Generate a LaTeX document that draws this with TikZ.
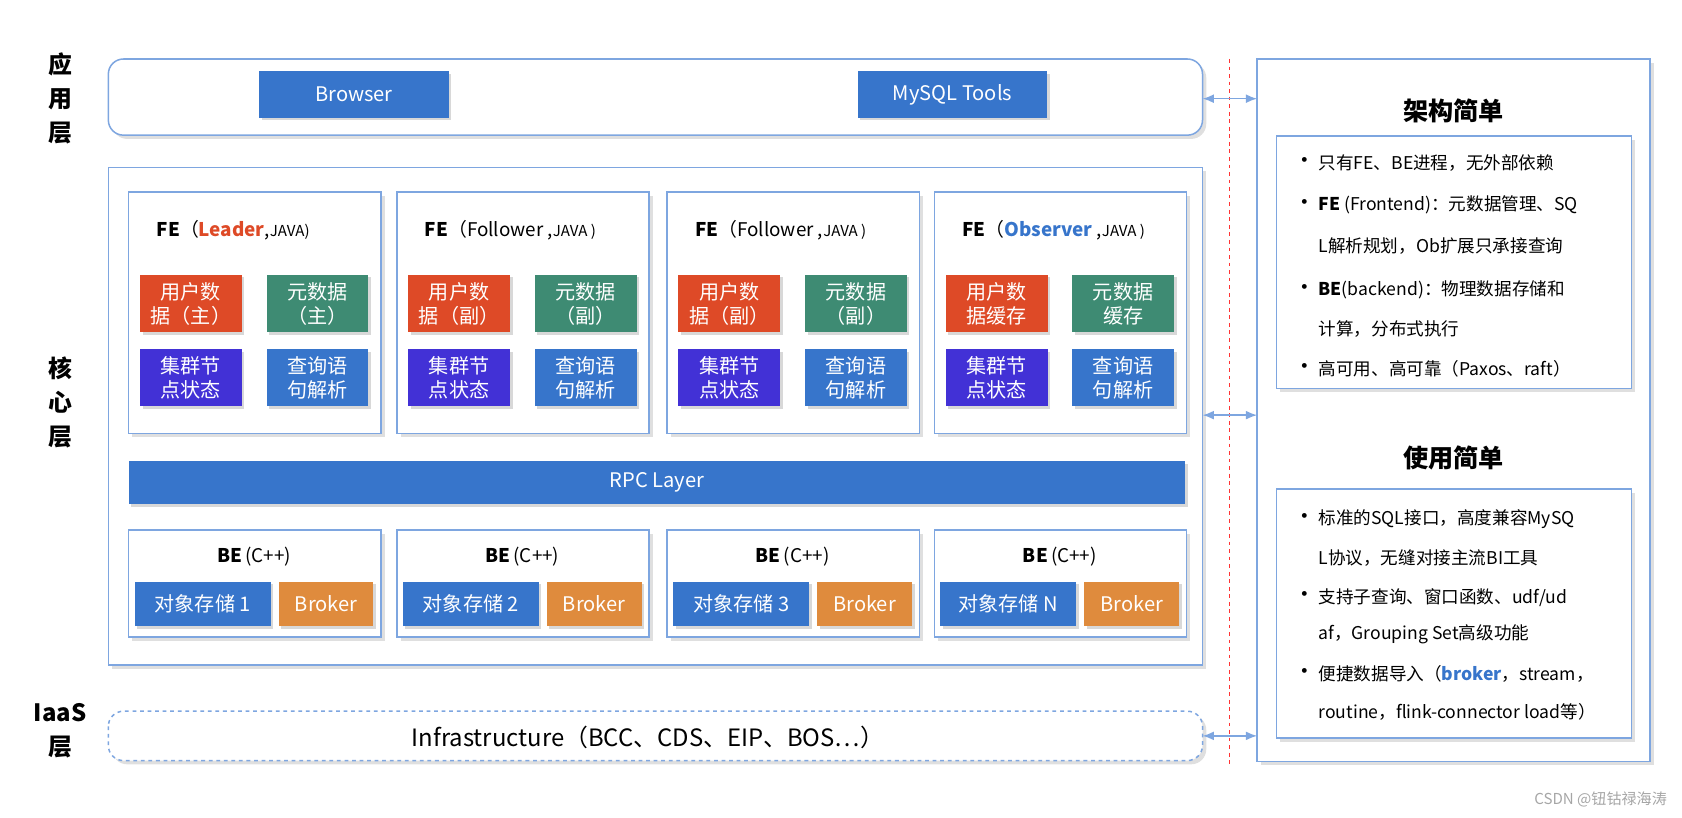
\documentclass[tikz,border=0pt]{standalone}
\usepackage{fontspec}
\setmainfont{Noto Sans CJK SC}
\usetikzlibrary{shadows,arrows.meta,positioning}
\definecolor{cBlue}{HTML}{3775CB}
\definecolor{cRed}{HTML}{DE4A27}
\definecolor{cGreen}{HTML}{3E8B73}
\definecolor{cPurple}{HTML}{4231D6}
\definecolor{cOrange}{HTML}{DF8B3D}
\definecolor{cLine}{HTML}{7EA6E0}
\newcommand{\jv}{\fontsize{12}{14}\selectfont JAVA}
\tikzstyle{frameS}=[draw=cLine,line width=1.2pt,fill=white,drop shadow={opacity=0.25,shadow xshift=3pt,shadow yshift=-3pt}]
\tikzstyle{cellS}=[minimum height=1.6cm,inner sep=0pt,text=white,align=center,font=\fontsize{16}{19}\selectfont,drop shadow={opacity=0.3,shadow xshift=2pt,shadow yshift=-2pt}]
\tikzstyle{lblS}=[font=\fontsize{19}{27}\selectfont\bfseries,align=center]
\tikzstyle{txtS}=[anchor=west,inner sep=0pt,font=\fontsize{14}{16}\selectfont]
\tikzstyle{dA}=[{Latex[length=9pt,width=7pt]}-{Latex[length=9pt,width=7pt]},cLine,line width=1.2pt]
\begin{document}
\begin{tikzpicture}[x=0.03cm,y=-0.03cm]
\useasboundingbox (0,0) rectangle (1568,762);
% layer labels
\node[lblS] (lApp) at (56,92) {应\\用\\层};
\node[lblS] (lCore) at (56,375) {核\\心\\层};
\node[lblS] (lIaas) at (56,681) {IaaS\\层};
% application layer
\draw[frameS,rounded corners=12pt] (101,55) rectangle (1121,126);
\coordinate (app) at (1121,92);
\node[cellS,fill=cBlue,minimum width=5.3cm,minimum height=1.3cm] (br) at (330,88) {Browser};
\node[cellS,fill=cBlue,minimum width=5.3cm,minimum height=1.3cm] (my) at (888,88) {MySQL Tools};
% core layer
\draw[frameS,drop shadow={opacity=0}] (101,156) rectangle (1121,620);
\coordinate (core) at (1121,387);
\foreach \i/\x/\t/\a/\b in {1/120/{\textcolor{cRed}{\textbf{Leader}},\jv)}/主/主,
  2/370/{Follower ,\jv\ )}/副/副,
  3/622/{Follower ,\jv\ )}/副/副,
  4/871/{\textcolor{cBlue}{\textbf{Observer}} ,\jv\ )}/缓存/缓存}{
  \draw[frameS] (\x,179) rectangle ++(235,225);
  \node[anchor=west,font=\fontsize{15}{18}\selectfont] (fe\i) at (\x+22,215) {\textbf{FE}（\t};
  \ifnum\i=4
    \node[cellS,fill=cRed,minimum width=2.85cm] (ud\i) at (\x+58,283) {用户数\\据缓存};
    \node[cellS,fill=cGreen,minimum width=2.85cm] (md\i) at (\x+176,283) {元数据\\缓存};
  \else
    \node[cellS,fill=cRed,minimum width=2.85cm] (ud\i) at (\x+58,283) {用户数\\据（\a）};
    \node[cellS,fill=cGreen,minimum width=2.85cm] (md\i) at (\x+176,283) {元数据\\（\b）};
  \fi
  \node[cellS,fill=cPurple,minimum width=2.85cm] (cs\i) at (\x+58,352) {集群节\\点状态};
  \node[cellS,fill=cBlue,minimum width=2.85cm] (qp\i) at (\x+176,352) {查询语\\句解析};
}
\node[cellS,fill=cBlue,minimum width=29.55cm,minimum height=1.2cm] (rpc) at (612.5,450) {RPC Layer};
\foreach \i/\x/\n in {1/120/1,2/370/2,3/622/3,4/871/N}{
  \draw[frameS] (\x,494) rectangle ++(235,100);
  \node[font=\fontsize{15}{18}\selectfont] (be\i) at (\x+117,519) {\textbf{BE}\,(C++)};
  \node[cellS,fill=cBlue,minimum width=3.8cm,minimum height=1.25cm] (os\i) at (\x+69,563) {对象存储 \n};
  \node[cellS,fill=cOrange,minimum width=2.65cm,minimum height=1.25cm] (bk\i) at (\x+184,563) {Broker};
}
% iaas layer
\draw[frameS,dashed,rounded corners=12pt] (101,663) rectangle (1121,709);
\coordinate (iaas) at (1121,686);
\node[font=\fontsize{19}{22}\selectfont] (inf) at (604,687) {Infrastructure（BCC、CDS、EIP、BOS…）};
% separator
\draw[red!80,dashed,line width=0.8pt] (1146,55) -- (1146,715);
% right panel
\draw[frameS] (1172,55) rectangle (1538,710);
\coordinate (rApp) at (1172,92);
\coordinate (rCore) at (1172,387);
\coordinate (rIaas) at (1172,686);
\draw[dA] (app) -- (rApp);
\draw[dA] (core) -- (rCore);
\draw[dA] (iaas) -- (rIaas);
\node[font=\fontsize{20}{24}\selectfont\bfseries] (t1) at (1355,103) {架构简单};
\draw[frameS] (1190,127) rectangle (1521,362);
\node[font=\fontsize{20}{24}\selectfont\bfseries] (t2) at (1355,427) {使用简单};
\draw[frameS] (1190,456) rectangle (1521,688);
\foreach \y in {152,191,270,344,484,557,628}
  \node[txtS,font=\fontsize{18}{18}\selectfont] (b\y) at (1206,\y) {•};
\foreach \y/\t in {152/{只有FE、BE进程，无外部依赖},
  191/{\textbf{FE} (Frontend)：元数据管理、SQ},
  229/{L解析规划，Ob扩展只承接查询},
  270/{\textbf{BE}(backend)：物理数据存储和},
  307/{计算，分布式执行},
  344/{高可用、高可靠（Paxos、raft）},
  484/{标准的SQL接口，高度兼容MySQ},
  520/{L协议，无缝对接主流BI工具},
  557/{支持子查询、窗口函数、udf/ud},
  591/{af，Grouping Set高级功能},
  628/{便捷数据导入（\textcolor{cBlue}{\textbf{broker}}，stream，},
  664/{routine，flink-connector load等）}}
  \node[txtS] (l\y) at (1229,\y) {\t};
\node[anchor=east,text=gray!70,font=\fontsize{12}{14}\selectfont] (wm) at (1558,745) {CSDN @钮钴禄海涛};
\end{tikzpicture}
\end{document}
